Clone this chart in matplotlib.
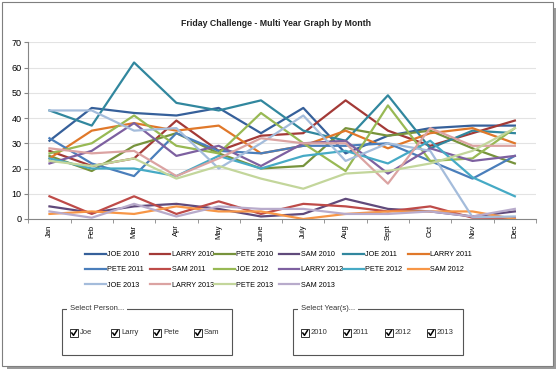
import matplotlib
matplotlib.use("Agg")
import matplotlib.pyplot as plt
from matplotlib.patches import Rectangle
from matplotlib.lines import Line2D

plt.rcParams['font.family'] = ['Liberation Sans', 'DejaVu Sans']

months = ['Jan', 'Feb', 'Mar', 'Apr', 'May', 'June', 'July', 'Aug', 'Sept', 'Oct', 'Nov', 'Dec']

series_names = ['JOE 2010', 'LARRY 2010', 'PETE 2010', 'SAM 2010', 'JOE 2011', 'LARRY 2011',
                'PETE 2011', 'SAM 2011', 'JOE 2012', 'LARRY 2012', 'PETE 2012', 'SAM 2012',
                'JOE 2013', 'LARRY 2013', 'PETE 2013', 'SAM 2013']

joe_2010 = [31, 44, 42, 41, 44, 34, 44, 26, 33, 36, 37, 37]
larry_2010 = [27, 21, 24, 39, 27, 33, 34, 47, 35, 29, 34, 39]
pete_2010 = [25, 19, 29, 34, 26, 20, 21, 36, 33, 35, 28, 22]
sam_2010 = [5, 2.5, 5, 6, 4, 1, 2, 8, 4, 3, 1, 3]
joe_2011 = [43, 37, 62, 46, 43, 47, 35, 31, 49, 28, 35, 34]
larry_2011 = [24, 35, 38, 35, 37, 26, 29, 35, 28, 34, 36, 30]
pete_2011 = [32, 22, 17, 34, 27, 26, 29, 29, 30, 23, 16, 25]
sam_2011 = [9, 2, 9, 2, 7, 2, 6, 5, 3, 5, 0.5, 0.5]
joe_2012 = [26, 30, 41, 29, 26, 42, 30, 19, 45, 23, 24, 36]
larry_2012 = [22, 27, 38, 25, 29, 21, 30, 31, 18, 28, 23, 25]
pete_2012 = [24, 20, 20, 17, 25, 20, 25, 27, 22, 31, 16.5, 9]
sam_2012 = [2, 3, 2, 5, 3, 3, 0, 2, 3, 3, 3, 0]
joe_2013 = [43, 43, 35, 36, 20, 30, 41, 23, 30, 27, 0.7, 1]
larry_2013 = [28, 26, 27, 17, 24, 32, 30, 30, 14, 36, 29, 29]
pete_2013 = [23, 21, 24, 16, 21, 16, 12, 18, 19, 22, 27, 36]
sam_2013 = [3, 0.5, 6, 1, 5, 4, 4, 2, 2, 3, 1, 4]

all_series = [joe_2010, larry_2010, pete_2010, sam_2010, joe_2011, larry_2011,
              pete_2011, sam_2011, joe_2012, larry_2012, pete_2012, sam_2012,
              joe_2013, larry_2013, pete_2013, sam_2013]

colors = ['#36609A', '#A33A37', '#77933C', '#604A7B', '#31879E', '#E0782A',
          '#4A7EBB', '#BE4B48', '#98B954', '#7D60A0', '#46AAC5', '#F79646',
          '#A4BCDB', '#DBA3A2', '#C3D69B', '#B8ABCB']

persons = ['Joe', 'Larry', 'Pete', 'Sam']
years = ['2010', '2011', '2012', '2013']

W, H = 557, 372
fig = plt.figure(figsize=(W / 100, H / 100), dpi=100)
fig.patch.set_facecolor('white')


def fx(px):
    return px / W


def fy(py):
    return 1 - py / H


# outer chart border with shadow
fig.patches.append(Rectangle((fx(553), fy(369)), fx(3), fy(8) - fy(369), transform=fig.transFigure,
                             facecolor='#9a9a9a', edgecolor='none', zorder=0))
fig.patches.append(Rectangle((fx(7), fy(369)), fx(548), fy(366) - fy(369), transform=fig.transFigure,
                             facecolor='#9a9a9a', edgecolor='none', zorder=0))
fig.patches.append(Rectangle((fx(2), fy(366)), fx(551), fy(2) - fy(366), transform=fig.transFigure,
                             facecolor='white', edgecolor='#7f7f7f', linewidth=0.8, zorder=0.5))

ax = fig.add_axes([fx(28.3), fy(219), fx(536) - fx(28.3), fy(42.3) - fy(219)])
ax.set_zorder(2)
ax.set_facecolor('none')

x = list(range(len(months)))
handles = []
for name, vals, c in zip(series_names, all_series, colors):
    h, = ax.plot(x, vals, color=c, linewidth=1.6, label=name)
    handles.append(h)

ax.set_xlim(-0.5, 11.5)
ax.set_ylim(0, 70)
ax.set_yticks(range(0, 71, 10))
ax.set_xticks(x)
ax.set_xticklabels(months, rotation=90, fontsize=5.5)
ax.set_xticks([i + 0.5 for i in range(-1, 12)], minor=True)
ax.tick_params(axis='x', which='major', length=0, pad=4)
ax.tick_params(axis='x', which='minor', length=3, color='#868686', direction='out')
ax.tick_params(axis='y', length=3, color='#868686', labelsize=6.5, pad=2)
ax.grid(axis='y', color='#e3e3e3', linewidth=0.8)
ax.set_axisbelow(True)
for side in ['top', 'right']:
    ax.spines[side].set_visible(False)
for side in ['left', 'bottom']:
    ax.spines[side].set_color('#868686')
    ax.spines[side].set_linewidth(0.8)

fig.text(fx(276), fy(24), 'Friday Challenge - Multi Year Graph by Month', ha='center', va='center',
         fontsize=6.3, fontweight='bold', color='#222222')

# legend: one small legend per column so the columns sit at fixed steps like Excel's
ncol = 6
for c in range(ncol):
    idx = [r * ncol + c for r in range(3) if r * ncol + c < len(handles)]
    leg = fig.legend([handles[i] for i in idx], [series_names[i] for i in idx],
                     loc='upper left', bbox_to_anchor=(fx(85 + 64.6 * c), fy(251)),
                     frameon=False, fontsize=5.2, handlelength=2.85, handletextpad=0.2,
                     labelspacing=1.15, borderaxespad=0, borderpad=0)
    leg.set_zorder(3)


def group_box(x0, x1, title, labels, box_xs):
    y0, y1 = 309, 355
    fig.patches.append(Rectangle((fx(x0), fy(y1)), fx(x1) - fx(x0), fy(y0) - fy(y1),
                                 transform=fig.transFigure, facecolor='none',
                                 edgecolor='#555555', linewidth=0.8, zorder=2))
    fig.text(fx(x0 + 6), fy(y0), ' ' + title + ' ', fontsize=5.5, va='center', ha='left',
             color='#333333', zorder=3,
             bbox=dict(facecolor='white', edgecolor='none', pad=0.5))
    for bx, lab in zip(box_xs, labels):
        fig.patches.append(Rectangle((fx(bx), fy(337)), fx(8), fy(329) - fy(337),
                                     transform=fig.transFigure, facecolor='white',
                                     edgecolor='#333333', linewidth=0.7, zorder=3))
        fig.lines.append(Line2D([fx(bx + 1.8), fx(bx + 3.5), fx(bx + 6.4)],
                                [fy(333), fy(335.3), fy(330.6)], transform=fig.transFigure,
                                color='black', linewidth=1.1, zorder=4))
        fig.text(fx(bx + 10), fy(333), lab, fontsize=5.5, va='center', ha='left', color='#333333')


group_box(62, 232, 'Select Person...', persons, [70, 111, 153, 194])
group_box(293, 463, 'Select Year(s)...', years, [301, 343, 385, 427])

fig.savefig('out.png', dpi=100)
